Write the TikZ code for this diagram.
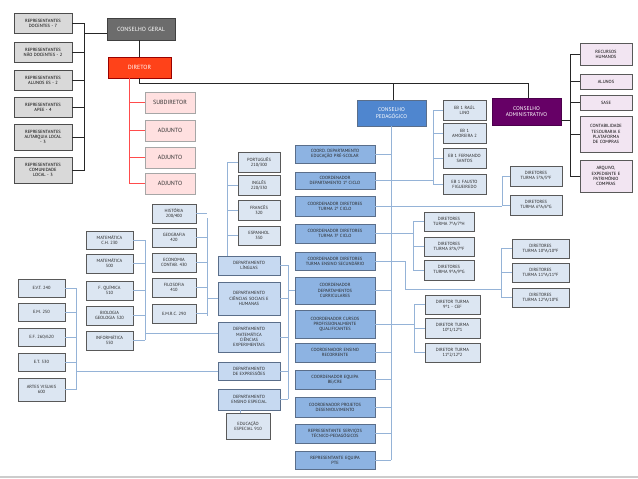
\documentclass[tikz,border=0pt]{standalone}
\usepackage{fontspec}
\setmainfont{PT Sans}
\definecolor{cob}{HTML}{8DB3E2}
\definecolor{dpb}{HTML}{C6D9F1}
\definecolor{ltb}{HTML}{DCE6F2}
\definecolor{lnb}{HTML}{95B3D7}
\definecolor{cpb}{HTML}{4F86CF}
\definecolor{bdb}{HTML}{5A6E8A}
\begin{document}
\begin{tikzpicture}[x=1pt,y=-1pt,
 base/.style={draw=#1,line width=0.8pt,align=center,inner sep=0.3pt,font=\fontsize{4.5}{5.1}\selectfont},
 rep/.style={base=gray!60!black,fill=gray!30},
 gen/.style={base=gray!50!black,fill=gray!85!black,text=white,font=\fontsize{6}{7}\selectfont},
 dir/.style={base=red!60!black,fill=red!65!orange!90!white,text=white,font=\fontsize{6}{7}\selectfont},
 sub/.style={base=gray!70,fill=red!12,text=black!80,font=\fontsize{6}{7}\selectfont},
 cp/.style={base=bdb,fill=cpb,text=white,font=\fontsize{5.5}{6.5}\selectfont},
 ca/.style={base=violet!60!black,fill=violet!80!black,text=white,font=\fontsize{5.5}{6.5}\selectfont},
 adm/.style={base=gray!70!black,fill=violet!10},
 co/.style={base=bdb,fill=cob,text=black!85},
 dp/.style={base=bdb,fill=dpb,text=black!85},
 lt/.style={base=gray!70!black,fill=ltb,text=black!85},
 ln/.style={draw=lnb,line width=0.8pt},
 gl/.style={draw=gray!30!black,line width=1pt},
 rl/.style={draw=red!70,line width=0.8pt}]
\newcommand\bx[7]{\node[#6,minimum width={#4pt-#2pt},minimum height={#5pt-#3pt},text width={#4pt-#2pt-2pt}] (#1) at ({(#2+#4)/2},{(#3+#5)/2}) {#7};}
\useasboundingbox[fill=white] (0,0) rectangle (638,479);
% council
\bx{r1}{14}{13}{72}{33}{rep}{REPRESENTANTES\\DOCENTES - 7}
\bx{r2}{14}{42}{72}{62}{rep}{REPRESENTANTES\\NÃO DOCENTES - 2}
\bx{r3}{14}{70}{72}{90}{rep}{REPRESENTANTES\\ALUNOS ES - 2}
\bx{r4}{14}{97}{72}{117}{rep}{REPRESENTANTES\\APEE - 4}
\bx{r5}{14}{124}{72}{150}{rep}{REPRESENTANTES\\AUTARQUIA LOCAL\\- 3}
\bx{r6}{14}{157}{72}{183}{rep}{REPRESENTANTES\\COMUNIDADE\\LOCAL - 3}
\bx{cg}{107}{18}{175}{40}{gen}{CONSELHO GERAL}
\bx{dr}{108}{57}{171}{78}{dir}{DIRETOR}
\foreach \n in {r1,r2,r3,r4,r5,r6} \draw[gl] (\n.east) -- (\n.east -| 84,0);
\draw[gl] (84,23) -- (84,171);
\draw[gl] (84,33) -- (cg.west |- 84,33);
\draw[gl] (cg.south -| 139,0) -- (dr.north -| 139,0);
\bx{s1}{145}{92}{195}{113}{sub}{SUBDIRETOR}
\bx{s2}{145}{120}{195}{141}{sub}{ADJUNTO}
\bx{s3}{145}{147}{195}{168}{sub}{ADJUNTO}
\bx{s4}{145}{173}{195}{194}{sub}{ADJUNTO}
\draw[rl] (dr.south -| 129,0) -- (129,184);
\foreach \n in {s1,s2,s3,s4} \draw[rl] (\n.west) -- (\n.west -| 129,0);
\bx{cp}{357}{100}{426}{126}{cp}{CONSELHO\\PEDAGÓGICO}
\bx{ca}{492}{98}{561}{125}{ca}{CONSELHO\\ADMINISTRATIVO}
\draw[gl] (dr.south -| 139,0) -- (139,83) -- (528,83);
\draw[gl] (393,83) -- (cp.north -| 393,0);
\draw[gl] (ca.north -| 528,0) -- (528,83);
% admin
\bx{a1}{580}{43}{632}{65}{adm}{RECURSOS\\HUMANOS}
\bx{a2}{580}{74}{632}{89}{adm}{ALUNOS}
\bx{a3}{580}{95}{632}{110}{adm}{SASE}
\bx{a4}{580}{116}{632}{152}{adm}{CONTABILIDADE\\TESOURARIA E\\PLATAFORMA\\DE COMPRAS}
\bx{a5}{580}{160}{632}{192}{adm}{ARQUIVO,\\EXPEDIENTE E\\PATRIMÓNIO\\COMPRAS}
\draw[gl] (570,54) -- (570,176);
\foreach \n in {a1,a2,a3,a4,a5} \draw[gl] (\n.west) -- (\n.west -| 570,0);
\draw[gl] (ca.east |- 0,120) -- (570,120);
% EB1
\bx{e1}{443}{100}{486}{120}{lt}{EB 1 RAÚL\\LINO}
\bx{e2}{443}{123}{486}{143}{lt}{EB 1\\AMOREIRA 2}
\bx{e3}{443}{148}{486}{168}{lt}{EB 1 FERNANDO\\SANTOS}
\bx{e4}{443}{174}{486}{194}{lt}{EB 1 FAUSTO\\FIGUEIREDO}
\draw[ln] (433,110) -- (433,184);
\foreach \n in {e1,e2,e3,e4} \draw[ln] (\n.west) -- (\n.west -| 433,0);
% coordinators
\bx{c1}{295}{145}{375}{163}{co}{COORD. DEPARTAMENTO\\EDUCAÇÃO PRÉ-SCOLAR}
\bx{c2}{295}{172}{375}{189}{co}{COORDENADOR\\DEPARTAMENTO 1º CICLO}
\bx{c3}{295}{196}{375}{216}{co}{COORDENADOR DIRETORES\\TURMA 2º CICLO}
\bx{c4}{295}{224}{375}{243}{co}{COORDENADOR DIRETORES\\TURMA 3º CICLO}
\bx{c5}{295}{252}{375}{270}{co}{COORDENADOR DIRETORES\\TURMA ENSINO SECUNDÁRIO}
\bx{c6}{295}{277}{375}{304}{co}{COORDENADOR\\DEPARTAMENTOS\\CURRICULARES}
\bx{c7}{295}{310}{375}{338}{co}{COORDENADOR CURSOS\\PROFISSIONALMENTE\\QUALIFICANTES}
\bx{c8}{295}{343}{375}{362}{co}{COORDENADOR ENSINO\\RECORRENTE}
\bx{c9}{295}{370}{375}{389}{co}{COORDENADOR EQUIPA\\BE/CRE}
\bx{c10}{295}{397}{375}{417}{co}{COORDENADOR PROJETOS\\DESENVOLVIMENTO}
\bx{c11}{295}{424}{375}{443}{co}{REPRESENTANTE SERVIÇOS\\TÉCNICO-PEDAGÓGICOS}
\bx{c12}{295}{451}{375}{469}{co}{REPRESENTANTE EQUIPA\\PTE}
\draw[ln] (cp.south -| 391,0) -- (391,460);
\foreach \n in {c1,c2,c3,c4,c6,c7,c8,c9,c10,c11,c12} \draw[ln] (\n.east) -- (\n.east -| 391,0);
\draw[ln] (c2.east) -- (c2.east -| 433,0);
% diretores turma
\bx{t1}{510}{166}{562}{186}{lt}{DIRETORES\\TURMA 5ºA/5ºF}
\bx{t2}{510}{195}{562}{215}{lt}{DIRETORES\\TURMA 6ºA/6ºG}
\draw[ln] (502,176) -- (502,205);
\foreach \n in {t1,t2} \draw[ln] (\n.west) -- (\n.west -| 502,0);
\draw[ln] (c3.east) -- (c3.east -| 502,0);
\bx{t3}{424}{212}{474}{231}{lt}{DIRETORES\\TURMA 7ºA/7ºH}
\bx{t4}{424}{237}{474}{256}{lt}{DIRETORES\\TURMA 8ºA/7ºF}
\bx{t5}{424}{260}{474}{280}{lt}{DIRETORES\\TURMA 9ºA/9ºG}
\draw[ln] (413,221) -- (413,270);
\foreach \n in {t3,t4,t5} \draw[ln] (\n.west) -- (\n.west -| 413,0);
\draw[ln] (c4.east) -- (c4.east -| 413,0);
\bx{t6}{512}{239}{569}{258}{lt}{DIRETORES\\TURMA 10ºA/10ºF}
\bx{t7}{512}{263}{569}{282}{lt}{DIRETORES\\TURMA 11ºA/11ºF}
\bx{t8}{512}{288}{569}{307}{lt}{DIRETORES\\TURMA 12ºA/10ºE}
\draw[ln] (501,248) -- (501,297);
\foreach \n in {t6,t7,t8} \draw[ln] (\n.west) -- (\n.west -| 501,0);
\draw[ln] (c5.east) -- (405,261) -- (405,289) -- (501,289);
\bx{t9}{425}{295}{480}{314}{lt}{DIRETOR TURMA\\9º1 - CEF}
\bx{t10}{425}{318}{480}{338}{lt}{DIRETOR TURMA\\10º1/12º1}
\bx{t11}{425}{343}{480}{362}{lt}{DIRETOR TURMA\\11º2/12º2}
\draw[ln] (414,304) -- (414,352);
\foreach \n in {t9,t10,t11} \draw[ln] (\n.west) -- (\n.west -| 414,0);
\draw[ln] (c7.east) -- (c7.east -| 414,0);
% departments
\bx{d1}{218}{256}{280}{275}{dp}{DEPARTAMENTO\\LÍNGUAS}
\bx{d2}{218}{282}{280}{315}{dp}{DEPARTAMENTO\\CIÊNCIAS SOCIAIS E\\HUMANAS}
\bx{d3}{218}{322}{280}{352}{dp}{DEPARTAMENTO\\MATEMÁTICA\\CIÊNCIAS\\EXPERIMENTAIS}
\bx{d4}{218}{362}{280}{380}{dp}{DEPARTAMENTO\\DE EXPRESSÕES}
\bx{d5}{218}{389}{280}{410}{dp}{DEPARTAMENTO\\ENSINO ESPECIAL}
\draw[ln] (288,265) -- (288,399);
\foreach \n in {d1,d2,d3,d4,d5} \draw[ln] (\n.east) -- (\n.east -| 288,0);
\draw[ln] (288,290) -- (c6.west |- 288,290);
\bx{ee}{226}{413}{270}{439}{lt}{EDUCAÇÃO\\ESPECIAL 910}
\draw[ln] (d5.south -| 240,0) -- (ee.north -| 240,0);
% languages
\bx{l1}{238}{152}{280}{172}{lt}{PORTUGUÊS\\210/300}
\bx{l2}{238}{175}{280}{195}{lt}{INGLÊS\\220/330}
\bx{l3}{238}{200}{280}{220}{lt}{FRANCÊS\\320}
\bx{l4}{238}{226}{280}{245}{lt}{ESPANHOL\\350}
\draw[ln] (227,162) -- (d1.north -| 227,0);
\foreach \n in {l1,l2,l3,l4} \draw[ln] (\n.west) -- (\n.west -| 227,0);
% social sciences
\bx{h1}{152}{204}{196}{223}{lt}{HISTÓRIA\\200/400}
\bx{h2}{152}{228}{196}{247}{lt}{GEOGRAFIA\\420}
\bx{h3}{152}{253}{196}{272}{lt}{ECONOMIA\\CONTAB. 430}
\bx{h4}{152}{278}{196}{297}{lt}{FILOSOFIA\\410}
\bx{h5}{152}{304}{196}{323}{lt}{E.M.R.C. 290}
\draw[ln] (207,218) -- (207,316);
\foreach \n in {h1,h2,h3,h4,h5} \draw[ln] (\n.east) -- (\n.east -| 207,0);
\draw[ln] (207,298) -- (d2.west |- 207,298);
% math
\bx{m1}{86}{231}{133}{249}{lt}{MATEMÁTICA\\C.H. 230}
\bx{m2}{86}{254}{133}{273}{lt}{MATEMÁTICA\\500}
\bx{m3}{86}{281}{133}{300}{lt}{F. QUÍMICA\\510}
\bx{m4}{86}{306}{133}{325}{lt}{BIOLOGIA\\GEOLOGIA 520}
\bx{m5}{86}{331}{133}{350}{lt}{INFORMÁTICA\\550}
\draw[ln] (145,240) -- (145,340);
\foreach \n in {m1,m2,m3,m4,m5} \draw[ln] (\n.east) -- (\n.east -| 145,0);
\draw[ln] (145,333) -- (d3.west |- 145,333);
% expressions
\bx{x1}{18}{279}{65}{297}{lt}{E.V.T. 240}
\bx{x2}{18}{303}{65}{321}{lt}{E.M. 250}
\bx{x3}{18}{328}{65}{346}{lt}{E.F. 260/620}
\bx{x4}{18}{353}{65}{371}{lt}{E.T. 530}
\bx{x5}{18}{378}{65}{401}{lt}{ARTES VISUAIS\\600}
\draw[ln] (76,288) -- (76,390);
\foreach \n in {x1,x2,x3,x4,x5} \draw[ln] (\n.east) -- (\n.east -| 76,0);
\draw[ln] (76,371) -- (d4.west |- 76,371);
\draw[gray!40,line width=1.5pt] (0,477) -- (638,477);
\end{tikzpicture}
\end{document}
